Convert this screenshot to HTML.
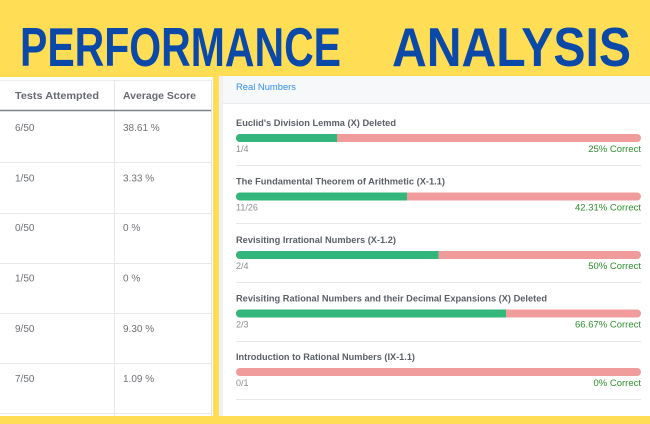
<!DOCTYPE html>
<html>
<head>
<meta charset="utf-8">
<style>
html,body{margin:0;padding:0;background:#ffdd55;}
svg{display:block;}
</style>
</head>
<body>
<svg width="650" height="424" viewBox="0 0 650 424" xmlns="http://www.w3.org/2000/svg" font-family="'Liberation Sans', sans-serif">
  <!-- background yellow -->
  <rect x="0" y="0" width="650" height="424" fill="#ffdd55"/>
  <!-- title -->
  <text x="20" y="66" font-size="55" font-weight="bold" fill="#0b49a9" textLength="321" lengthAdjust="spacingAndGlyphs">PERFORMANCE</text>
  <text x="392" y="66" font-size="55" font-weight="bold" fill="#0b49a9" textLength="239" lengthAdjust="spacingAndGlyphs">ANALYSIS</text>

  <!-- left panel -->
  <rect x="0" y="77" width="213" height="339" fill="#ffffff"/>
  <line x1="0" y1="80.5" x2="211" y2="80.5" stroke="#ececec" stroke-width="1"/>
  <line x1="211.5" y1="80" x2="211.5" y2="416" stroke="#e4e4e4" stroke-width="1"/>
  <line x1="114.5" y1="80" x2="114.5" y2="416" stroke="#e6e6e6" stroke-width="1"/>
  <line x1="0" y1="110.5" x2="211" y2="110.5" stroke="#7f8388" stroke-width="1.6"/>
  <g stroke="#e8e8e8" stroke-width="1">
    <line x1="0" y1="162.5" x2="211" y2="162.5"/>
    <line x1="0" y1="213.5" x2="211" y2="213.5"/>
    <line x1="0" y1="263.5" x2="211" y2="263.5"/>
    <line x1="0" y1="313.5" x2="211" y2="313.5"/>
    <line x1="0" y1="363.5" x2="211" y2="363.5"/>
    <line x1="0" y1="413.5" x2="211" y2="413.5"/>
  </g>
  <text x="15" y="99" font-size="10.5" font-weight="bold" fill="#666a70" textLength="84" lengthAdjust="spacingAndGlyphs">Tests Attempted</text>
  <text x="123" y="99" font-size="10.5" font-weight="bold" fill="#666a70" textLength="73" lengthAdjust="spacingAndGlyphs">Average Score</text>
  <g font-size="10" fill="#6e7176">
    <text x="15" y="131">6/50</text><text x="123" y="131">38.61 %</text>
    <text x="15" y="181.5">1/50</text><text x="123" y="181.5">3.33 %</text>
    <text x="15" y="231">0/50</text><text x="123" y="231">0 %</text>
    <text x="15" y="281.5">1/50</text><text x="123" y="281.5">0 %</text>
    <text x="15" y="332">9/50</text><text x="123" y="332">9.30 %</text>
    <text x="15" y="382">7/50</text><text x="123" y="382">1.09 %</text>
  </g>

  <!-- right panel -->
  <rect x="219" y="76" width="431" height="340" fill="#ffffff"/>
  <rect x="219" y="76" width="4" height="340" fill="#eef0f2"/>
  <rect x="223" y="76" width="427" height="27" fill="#f7f8f9"/>
  <line x1="223" y1="103.5" x2="650" y2="103.5" stroke="#e6e8ea" stroke-width="1"/>
  <text x="236" y="90" font-size="9" fill="#2f8ff0" textLength="60" lengthAdjust="spacingAndGlyphs">Real Numbers</text>

  <defs>
    <clipPath id="b1"><rect x="236" y="134" width="405" height="8" rx="4"/></clipPath>
    <clipPath id="b2"><rect x="236" y="192.5" width="405" height="8" rx="4"/></clipPath>
    <clipPath id="b3"><rect x="236" y="251" width="405" height="8" rx="4"/></clipPath>
    <clipPath id="b4"><rect x="236" y="309.5" width="405" height="8" rx="4"/></clipPath>
    <clipPath id="b5"><rect x="236" y="368" width="405" height="8" rx="4"/></clipPath>
  </defs>

  <g font-size="9" font-weight="bold" fill="#5b6067">
    <text x="236" y="126" textLength="160" lengthAdjust="spacingAndGlyphs">Euclid's Division Lemma (X) Deleted</text>
    <text x="236" y="184.5" textLength="209" lengthAdjust="spacingAndGlyphs">The Fundamental Theorem of Arithmetic (X-1.1)</text>
    <text x="236" y="243" textLength="160" lengthAdjust="spacingAndGlyphs">Revisiting Irrational Numbers (X-1.2)</text>
    <text x="236" y="301.5" textLength="311" lengthAdjust="spacingAndGlyphs">Revisiting Rational Numbers and their Decimal Expansions (X) Deleted</text>
    <text x="236" y="360" textLength="179" lengthAdjust="spacingAndGlyphs">Introduction to Rational Numbers (IX-1.1)</text>
  </g>

  <g clip-path="url(#b1)"><rect x="236" y="134" width="405" height="8" fill="#f19c9c"/><rect x="236" y="134" width="101" height="8" fill="#33b67b"/></g>
  <g clip-path="url(#b2)"><rect x="236" y="192.5" width="405" height="8" fill="#f19c9c"/><rect x="236" y="192.5" width="171" height="8" fill="#33b67b"/></g>
  <g clip-path="url(#b3)"><rect x="236" y="251" width="405" height="8" fill="#f19c9c"/><rect x="236" y="251" width="202.5" height="8" fill="#33b67b"/></g>
  <g clip-path="url(#b4)"><rect x="236" y="309.5" width="405" height="8" fill="#f19c9c"/><rect x="236" y="309.5" width="270" height="8" fill="#33b67b"/></g>
  <g clip-path="url(#b5)"><rect x="236" y="368" width="405" height="8" fill="#f19c9c"/></g>

  <g font-size="9" fill="#8a8d91">
    <text x="236" y="152">1/4</text>
    <text x="236" y="210.5">11/26</text>
    <text x="236" y="269">2/4</text>
    <text x="236" y="327.5">2/3</text>
    <text x="236" y="386">0/1</text>
  </g>
  <g font-size="9.5" fill="#2e8f2e" text-anchor="end">
    <text x="641" y="152">25% Correct</text>
    <text x="641" y="210.5">42.31% Correct</text>
    <text x="641" y="269">50% Correct</text>
    <text x="641" y="327.5">66.67% Correct</text>
    <text x="641" y="386">0% Correct</text>
  </g>
  <g stroke="#e6e6e6" stroke-width="1">
    <line x1="236" y1="165.5" x2="641" y2="165.5"/>
    <line x1="236" y1="223.5" x2="641" y2="223.5"/>
    <line x1="236" y1="282.5" x2="641" y2="282.5"/>
    <line x1="236" y1="341.5" x2="641" y2="341.5"/>
    <line x1="236" y1="399.5" x2="641" y2="399.5"/>
  </g>

  <!-- bottom yellow -->
  <rect x="0" y="416" width="650" height="8" fill="#ffdd55"/>
</svg>
</body>
</html>
